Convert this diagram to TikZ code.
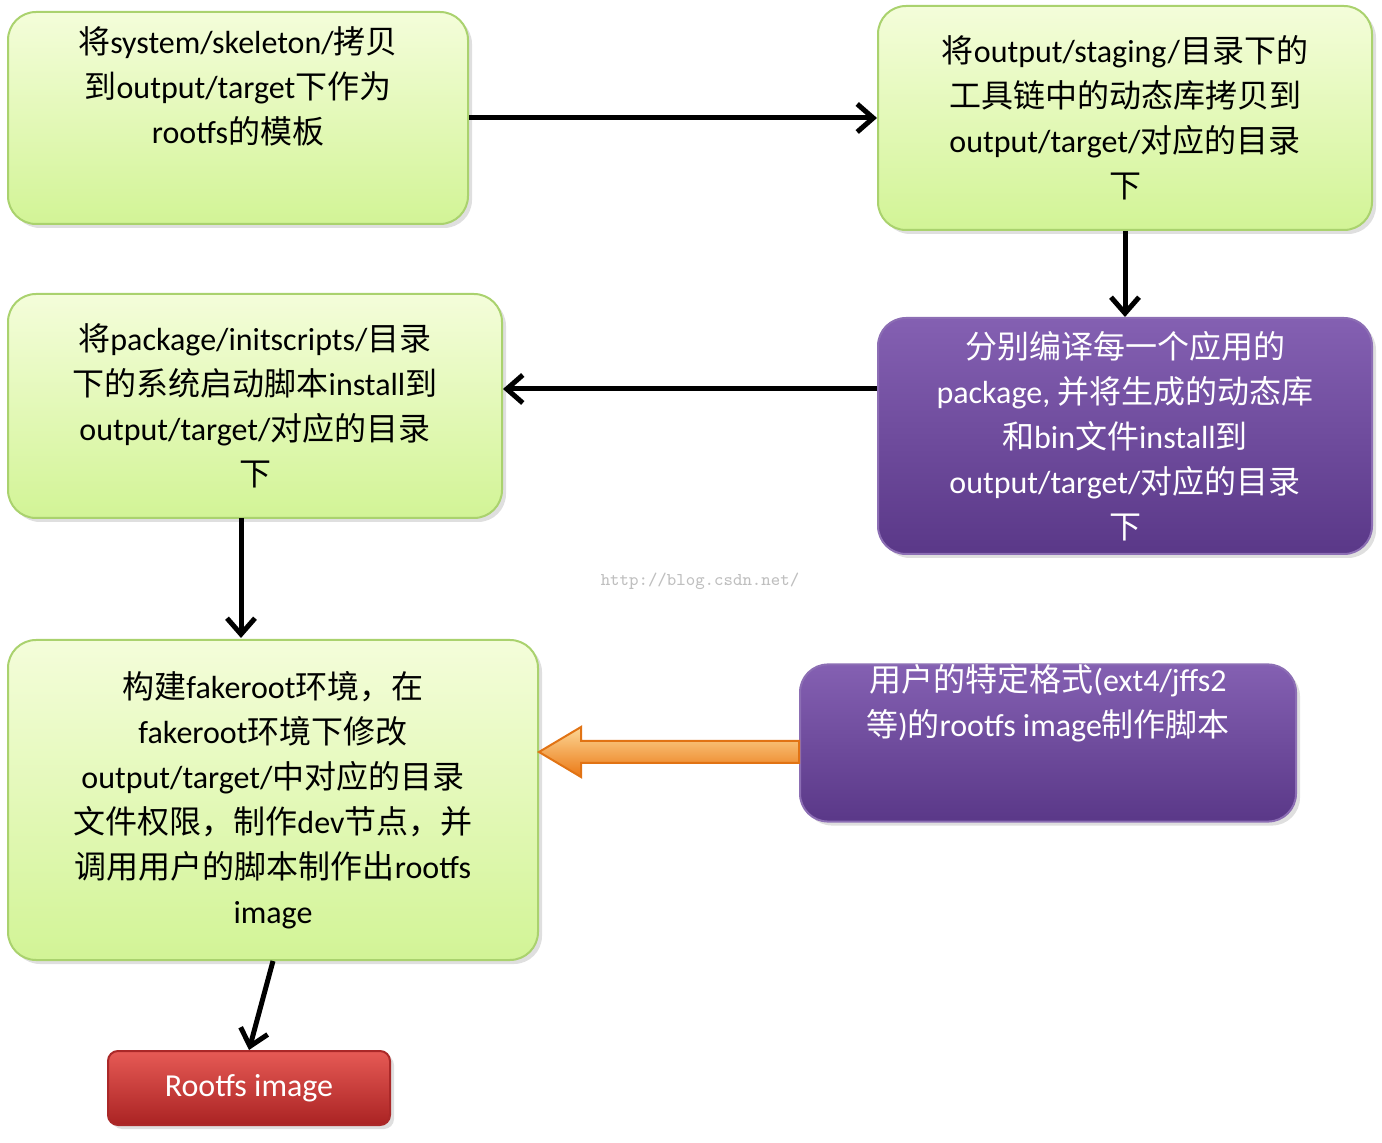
\documentclass[tikz,border=0pt]{standalone}
\usepackage{fontspec}
\setmainfont{Carlito}
\newfontfamily\cjfont{Noto Sans CJK SC}
\newcommand{\cj}[1]{{\cjfont #1}}
\usetikzlibrary{arrows.meta,shadows,calc}
\definecolor{gdraw}{RGB}{170,210,110}
\definecolor{gtop}{RGB}{244,253,218}
\definecolor{gbot}{RGB}{210,244,150}
\definecolor{pdraw}{RGB}{140,110,180}
\definecolor{ptop}{RGB}{132,96,178}
\definecolor{pbot}{RGB}{90,56,136}
\definecolor{rdraw}{RGB}{170,40,40}
\definecolor{rtop}{RGB}{230,90,85}
\definecolor{rbot}{RGB}{170,35,35}
\definecolor{odraw}{RGB}{225,115,20}
\definecolor{otop}{RGB}{252,215,150}
\definecolor{obot}{RGB}{235,120,20}
\begin{document}
\begin{tikzpicture}[x=0.5pt,y=-0.5pt,
 box/.style={rounded corners=14pt,align=center,inner sep=0pt,font=\fontsize{16}{22.5}\selectfont,drop shadow={opacity=0.25,shadow xshift=2pt,shadow yshift=-2pt}},
 gbox/.style={box,draw=gdraw,line width=1pt,top color=gtop,bottom color=gbot},
 pbox/.style={box,draw=pdraw,line width=1pt,top color=ptop,bottom color=pbot,text=white},
 arr/.style={line width=2.5pt,-{Straight Barb[length=8pt,width=14pt,line width=2.5pt]}}]
\useasboundingbox (0,0) rectangle (1382,1143);
\node[gbox,minimum width=230pt,minimum height=106pt] (b1) at (238,118) {\cj{将}system/skeleton/\cj{拷贝}\\\cj{到}output/target\cj{下作为}\\rootfs\cj{的模板}\\[10pt]};
\node[gbox,minimum width=247pt,minimum height=112pt] (b2) at (1125,118) {\cj{将}output/staging/\cj{目录下的}\\\cj{工具链中的动态库拷贝到}\\output/target/\cj{对应的目录}\\\cj{下}};
\node[pbox,minimum width=247pt,minimum height=118pt] (b3) at (1125,436) {\cj{分别编译每一个应用的}\\package, \cj{并将生成的动态库}\\\cj{和}bin\cj{文件}install\cj{到}\\output/target/\cj{对应的目录}\\\cj{下}};
\node[gbox,minimum width=247pt,minimum height=112pt] (b4) at (255,406) {\cj{将}package/initscripts/\cj{目录}\\\cj{下的系统启动脚本}install\cj{到}\\output/target/\cj{对应的目录}\\\cj{下}};
\node[gbox,minimum width=265pt,minimum height=160pt] (b5) at (273,800) {\cj{构建}fakeroot\cj{环境，在}\\fakeroot\cj{环境下修改}\\output/target/\cj{中对应的目录}\\\cj{文件权限，制作}dev\cj{节点，并}\\\cj{调用用户的脚本制作出}rootfs\\image};
\node[pbox,minimum width=248pt,minimum height=76pt] (b6) at (1048,743) {\cj{用户的特定格式}(ext4/jffs2\\\cj{等})\cj{的}rootfs image\cj{制作脚本}\\[20pt]};
\node[box,draw=rdraw,line width=1pt,top color=rtop,bottom color=rbot,text=white,rounded corners=5pt,minimum width=141pt,minimum height=37pt] (b7) at (249,1088) {Rootfs image};
\node[text=black!25,font=\ttfamily\fontsize{9}{10}\selectfont] (wm) at (700,581) {http://blog.csdn.net/};
\draw[arr] (b1.east) -- (b2.west);
\draw[arr] (b2.south) -- (b3.north);
\draw[arr] (b3.west|-0,389) -- (b4.east|-0,389);
\draw[arr] (241,518) -- (241,638);
\draw[arr] (b5.south) -- (b7.north);
\coordinate (oa) at (b6.west|-0,752);
\coordinate (ob) at (b5.east|-0,752);
\draw[draw=odraw,line width=1pt,top color=otop,bottom color=obot]
 ($(oa)+(0,-11)$) -- ++(-218,0) -- ++(0,-14) -- (ob) -- ++(42,25) -- ++(0,-14) -- ++(218,0) -- cycle;
\end{tikzpicture}
\end{document}
